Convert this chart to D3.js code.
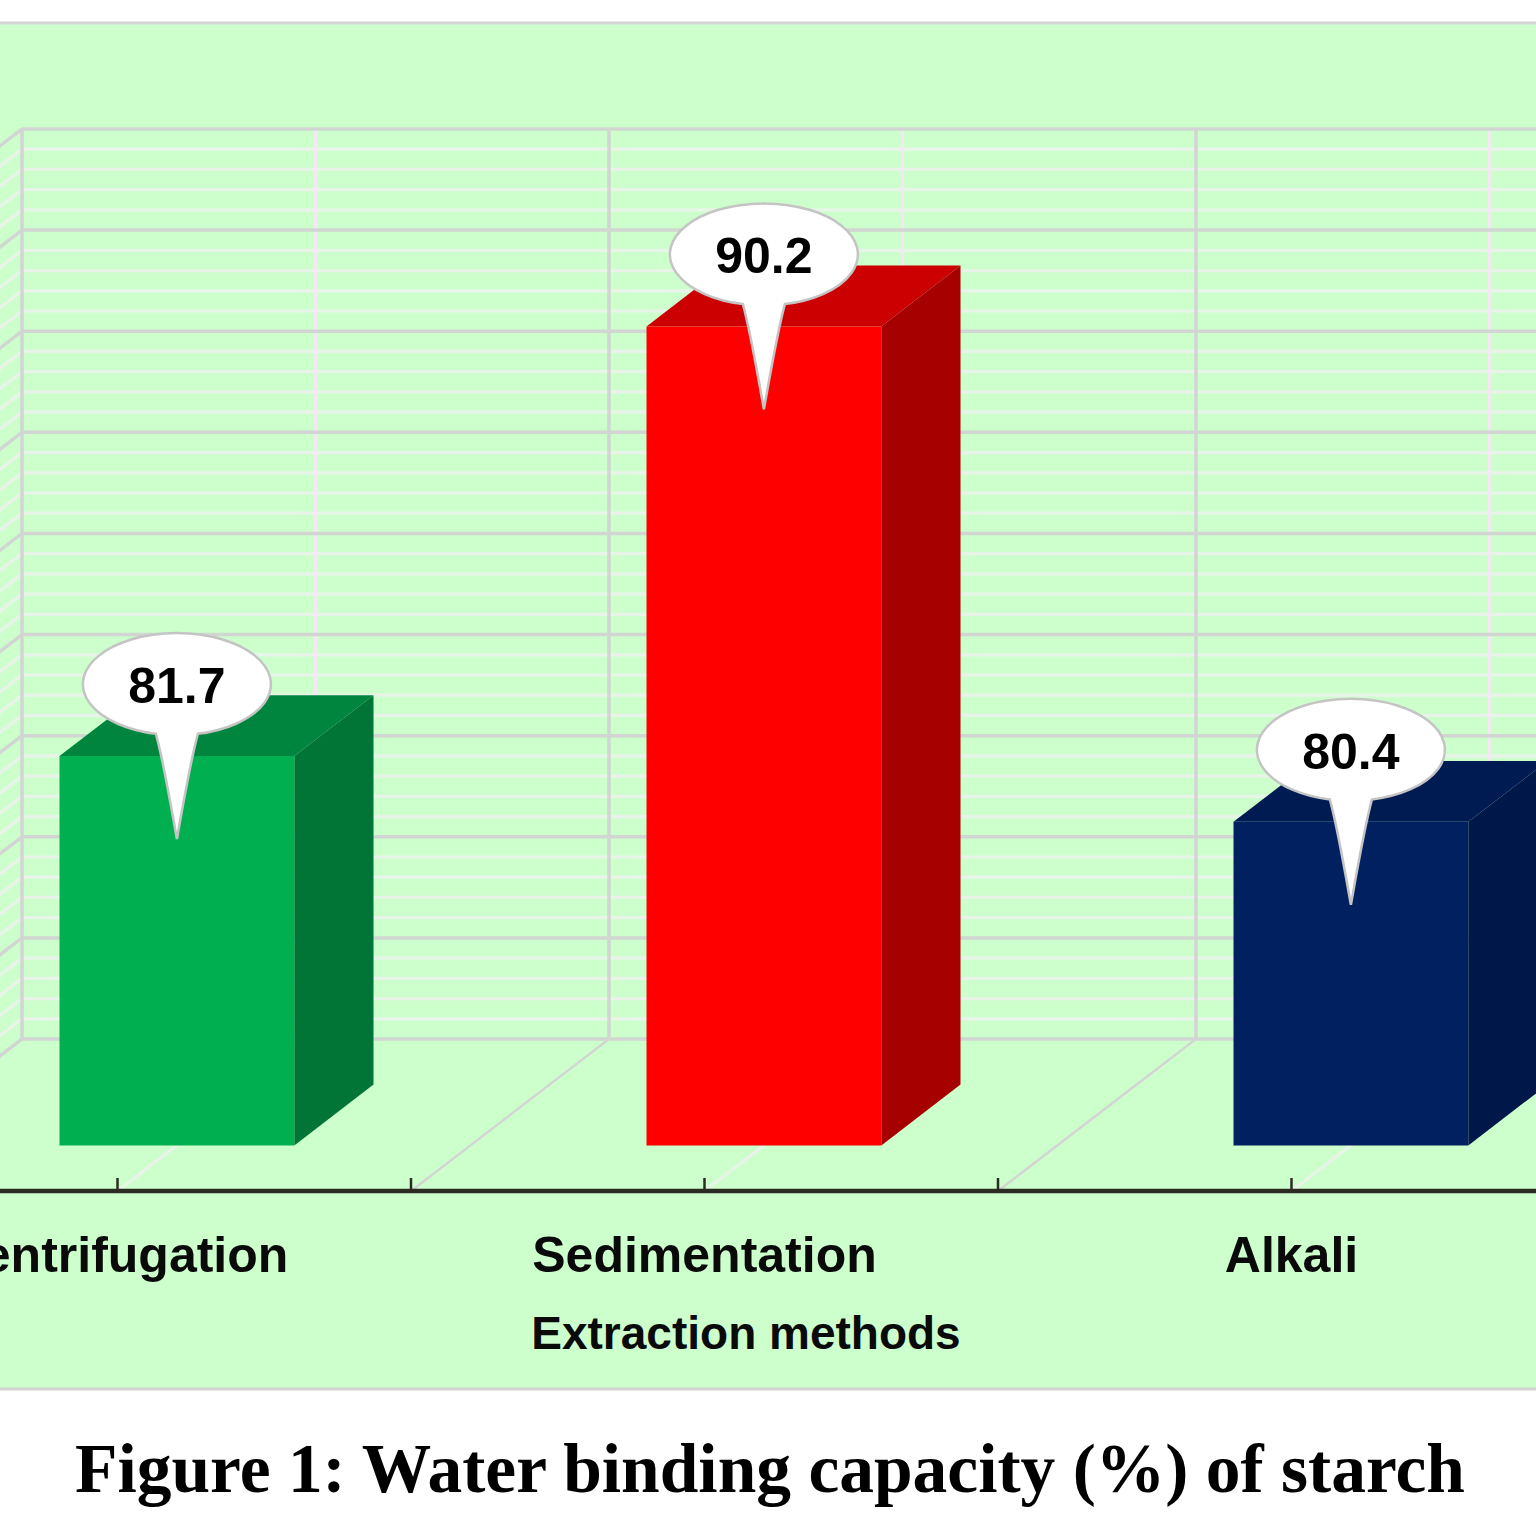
<!DOCTYPE html>
<html><head><meta charset="utf-8">
<script src="https://cdn.jsdelivr.net/npm/d3@7"></script>
<style>html,body{margin:0;padding:0;background:#fff;} svg{display:block}</style>
</head><body>
<svg id="chart" width="1536" height="1536"></svg>
<script>
// ---- data ----
const categories = ["Centrifugation", "Sedimentation", "Alkali"];
const values = [81.7, 90.2, 80.4];
const valueLabels = ["81.7", "90.2", "80.4"];
const frontColors = ["#00B050", "#FF0000", "#002060"];
const topColors = ["#00853E", "#CC0000", "#001B52"];
const sideColors = ["#007535", "#A60000", "#00174A"];
const yDomain = [74, 92];
const majorStep = 2;
const minorStep = 0.4;
const xAxisTitle = "Extraction methods";
const figureTitle = "Figure 1: Water binding capacity (%) of starch";

// ---- layout ----
const W = 1536, H = 1536;
const svg = d3.select("#chart");
const frontY = 1191;          // floor front edge (x axis line)
const DX = 198, DY = 152;     // depth projection
const x = d3.scaleBand().domain(categories).range([-176, 1585]).paddingInner(0).paddingOuter(0);
const bw = x.bandwidth();
const h = d3.scaleLinear().domain(yDomain).range([0, 910]);
const P = (xf, d, v) => [xf + d * DX, frontY - d * DY - h(v)];
const line = d3.line();

// panel background
svg.append("rect").attr("x", -10).attr("y", 23).attr("width", W + 20).attr("height", 1366)
  .attr("fill", "#CCFFCC").attr("stroke", "#D4D4D4").attr("stroke-width", 3);

svg.append("defs").append("clipPath").attr("id", "plotclip")
  .append("rect").attr("x", 0).attr("y", 25).attr("width", W).attr("height", 1362);
const g = svg.append("g").attr("clip-path", "url(#plotclip)");

// grid values
const nMinor = Math.round((yDomain[1] - yDomain[0]) / minorStep);
const perMajor = Math.round(majorStep / minorStep);
const gridVals = d3.range(0, nMinor + 1).map(i => ({v: yDomain[0] + i * minorStep, major: i % perMajor === 0}));
const x0 = x.range()[0], x1 = x.range()[1];
const boundaries = [x0, ...categories.map(c => x(c) + bw)];
const centers = categories.map(c => x(c) + bw / 2);
const vertLines = [...boundaries.map(b => ({b, major: true})), ...centers.map(b => ({b, major: false}))];

const minorCol = "#E9F4E9", majorCol = "#D2D6D2";
function drawGrid(isMajor) {
  const col = isMajor ? majorCol : minorCol;
  const sw = isMajor ? 3.5 : 3.2;
  gridVals.filter(d => d.major === isMajor).forEach(d => {
    g.append("path").attr("d", line([P(x0, 1, d.v), P(x1 + 400, 1, d.v)])).attr("stroke", col).attr("stroke-width", sw).attr("fill", "none");
    g.append("path").attr("d", line([P(x0, 0, d.v), P(x0, 1, d.v)])).attr("stroke", col).attr("stroke-width", sw).attr("fill", "none");
  });
  vertLines.filter(d => d.major === isMajor).forEach(d => {
    g.append("path").attr("d", line([P(d.b, 1, yDomain[0]), P(d.b, 1, yDomain[1])]))
      .attr("stroke", isMajor ? col : "#F2E9F2").attr("stroke-width", sw).attr("fill", "none");
    g.append("path").attr("d", line([P(d.b, 0, yDomain[0]), P(d.b, 1, yDomain[0])]))
      .attr("stroke", col).attr("stroke-width", isMajor ? 2.5 : 3).attr("fill", "none");
  });
}
drawGrid(false);
drawGrid(true);

// bars
const d0 = 0.3, d1 = 0.7;
categories.forEach((c, i) => {
  const v = values[i], base = yDomain[0];
  const xl = x(c) + bw * 0.3, xr = x(c) + bw * 0.7;
  g.append("path").attr("d", line([P(xl, d0, v), P(xr, d0, v), P(xr, d1, v), P(xl, d1, v)]) + "Z").attr("fill", topColors[i]);
  g.append("path").attr("d", line([P(xr, d0, v), P(xr, d1, v), P(xr, d1, base), P(xr, d0, base)]) + "Z").attr("fill", sideColors[i]);
  g.append("path").attr("d", line([P(xl, d0, base), P(xl, d0, v), P(xr, d0, v), P(xr, d0, base)]) + "Z").attr("fill", frontColors[i]);
});

// x axis line and ticks
g.append("line").attr("x1", 0).attr("x2", W).attr("y1", frontY).attr("y2", frontY).attr("stroke", "#2B2B22").attr("stroke-width", 4.5);
[...boundaries, ...centers].forEach(b => {
  g.append("line").attr("x1", b).attr("x2", b).attr("y1", frontY).attr("y2", frontY - 13).attr("stroke", "#2B2B22").attr("stroke-width", 2.5);
});

// callouts
const rx = 94, ry = 51, tw = 21;
categories.forEach((c, i) => {
  const [cx, top] = P(x(c) + bw / 2, d0, values[i]);
  const cy = top - 72, tip = top + 83;
  const yb = cy + ry * Math.sqrt(1 - (tw / rx) ** 2);
  const path = `M${cx - tw},${yb} A${rx},${ry} 0 1 1 ${cx + tw},${yb} C${cx + 14},${yb + 25} ${cx + 8},${yb + 60} ${cx},${tip} C${cx - 8},${yb + 60} ${cx - 14},${yb + 25} ${cx - tw},${yb} Z`;
  g.append("path").attr("d", path).attr("fill", "#FFFFFF").attr("stroke", "#C4C4C4").attr("stroke-width", 2.5);
  g.append("text").attr("x", cx).attr("y", cy + 19).attr("text-anchor", "middle")
    .attr("font-family", "'Liberation Sans', Arial, sans-serif").attr("font-weight", "bold").attr("font-size", 50)
    .attr("fill", "#000").text(valueLabels[i]);
});

// category labels
categories.forEach(c => {
  g.append("text").attr("x", x(c) + bw / 2).attr("y", 1272).attr("text-anchor", "middle")
    .attr("font-family", "'Liberation Sans', Arial, sans-serif").attr("font-weight", "bold").attr("font-size", 50)
    .attr("fill", "#0A0A0A").text(c);
});
g.append("text").attr("x", 746).attr("y", 1349).attr("text-anchor", "middle")
  .attr("font-family", "'Liberation Sans', Arial, sans-serif").attr("font-weight", "bold").attr("font-size", 46)
  .attr("fill", "#0A0A0A").text(xAxisTitle);

// figure title
svg.append("text").attr("x", 770).attr("y", 1492).attr("text-anchor", "middle")
  .attr("font-family", "'Liberation Serif', 'Times New Roman', serif").attr("font-weight", "bold").attr("font-size", 70)
  .attr("textLength", 1390).attr("lengthAdjust", "spacingAndGlyphs")
  .attr("fill", "#000").text(figureTitle);
</script>
</body></html>
